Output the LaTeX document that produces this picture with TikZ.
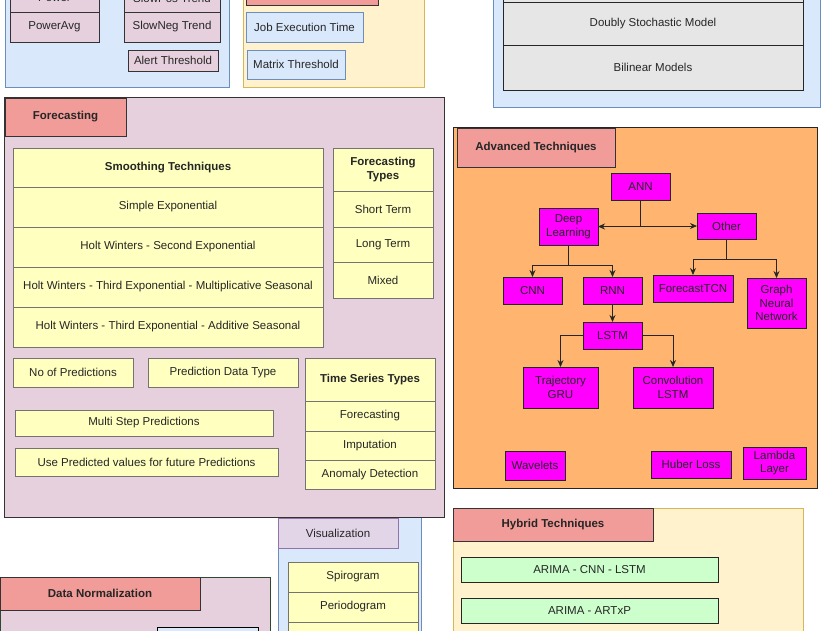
\documentclass[tikz,border=0pt]{standalone}
\usepackage{fontspec}
\setmainfont{Liberation Sans}
\usetikzlibrary{arrows.meta}
\definecolor{lblue}{HTML}{DAE8FC}\definecolor{bblue}{HTML}{6C8EBF}
\definecolor{pinkf}{HTML}{E6D0DE}\definecolor{redf}{HTML}{F19C99}
\definecolor{yelf}{HTML}{FFF2CC}\definecolor{yelb}{HTML}{D6B656}
\definecolor{pyel}{HTML}{FFFFC0}\definecolor{orf}{HTML}{FFB570}
\definecolor{grnf}{HTML}{CCFFCC}\definecolor{grf}{HTML}{E6E6E6}
\definecolor{visf}{HTML}{E1D5E7}\definecolor{visb}{HTML}{9673A6}
\definecolor{dgrn}{HTML}{2E4A2E}\definecolor{magf}{HTML}{FF00FF}
\newcommand\bx[7]{\node[#6,minimum width={#4-#2},minimum height={#5-#3}] (#1) at ({(#2+#4)/2},{(#3+#5)/2}) {#7};}
\begin{document}
\begin{tikzpicture}[x=1pt,y=-1pt,font=\fontsize{11.5}{13.5}\selectfont,
 b/.style={draw,inner sep=0pt,outer sep=0pt,align=center,text=black!85},
 cblue/.style={b,fill=lblue,draw=bblue},
 cpink/.style={b,fill=pinkf,draw=black!80},
 title/.style={b,fill=redf,draw=black!80,font=\fontsize{11.5}{13.5}\selectfont\bfseries},
 cyel/.style={b,fill=yelf,draw=yelb},
 py/.style={b,fill=pyel,draw=black!55},
 pyb/.style={py,font=\fontsize{11.5}{13.5}\selectfont\bfseries},
 mag/.style={b,fill=magf,draw=black!85},
 grn/.style={b,fill=grnf,draw=black!85},
 gry/.style={b,fill=grf,draw=black!85},
 arr/.style={draw=black!85,thick,-{Stealth[length=7pt,width=6pt]}}]
\useasboundingbox (0,0) rectangle (825,630);
\clip (0,0) rectangle (825,630);
% top left
\bx{tl}{5}{-20}{229}{87}{cblue}{}
\bx{pw}{10}{-16}{99}{12}{cpink}{Power}
\bx{pwa}{10}{12}{99}{42}{cpink}{PowerAvg}
\bx{spt}{124}{-16}{220}{12}{cpink}{SlowPos Trend}
\bx{snt}{124}{12}{220}{42}{cpink}{SlowNeg Trend}
\bx{alt}{128}{50}{218}{71}{cpink}{Alert Threshold}
% top middle
\bx{tm}{243}{-20}{424}{87}{cyel}{}
\bx{tmt}{246}{-30}{378}{5}{title}{}
\bx{jet}{246}{12}{363}{42}{cblue}{Job Execution Time}
\bx{mt}{247}{50}{345}{79}{cblue}{Matrix Threshold}
% top right
\bx{tr}{493}{-20}{820}{107}{cblue}{}
\bx{g0}{503}{-20}{803}{2}{gry}{}
\bx{dsm}{503}{2}{803}{45}{gry}{Doubly Stochastic Model}
\bx{bil}{503}{45}{803}{90}{gry}{Bilinear Models}
% visualization
\bx{vis}{278}{500}{421}{640}{cblue}{}
\bx{vist}{278}{518}{398}{548}{b,fill=visf,draw=visb}{Visualization}
\bx{spi}{288}{562}{418}{592}{py}{Spirogram}
\bx{per}{288}{592}{418}{622}{py}{Periodogram}
\bx{vx}{288}{622}{418}{650}{py}{}
% data normalization
\bx{dn}{0}{577}{270}{640}{b,fill=pinkf,draw=dgrn}{}
\bx{dnt}{0}{577}{200}{610}{title}{Data Normalization}
\bx{dnx}{157}{627}{258}{650}{cblue,draw=black}{}
% forecasting
\bx{fc}{4}{97}{444}{517}{cpink}{}
\bx{fct}{5}{98}{126}{136}{title}{Forecasting}
\bx{sm}{13}{148}{323}{187}{pyb}{Smoothing Techniques}
\bx{se}{13}{187}{323}{227}{py}{Simple Exponential}
\bx{hw2}{13}{227}{323}{267}{py}{Holt Winters - Second Exponential}
\bx{hw3m}{13}{267}{323}{307}{py}{Holt Winters - Third Exponential - Multiplicative Seasonal}
\bx{hw3a}{13}{307}{323}{347}{py}{Holt Winters - Third Exponential - Additive Seasonal}
\bx{ft}{333}{148}{433}{191}{pyb}{Forecasting\\Types}
\bx{st}{333}{191}{433}{227}{py}{Short Term}
\bx{lt}{333}{227}{433}{262}{py}{Long Term}
\bx{mx}{333}{262}{433}{298}{py}{Mixed}
\bx{nop}{13}{358}{133}{387}{py}{No of Predictions}
\bx{pdt}{148}{358}{298}{387}{py}{Prediction Data Type}
\bx{tst}{305}{358}{435}{401}{pyb}{Time Series Types}
\bx{tsf}{305}{401}{435}{431}{py}{Forecasting}
\bx{tsi}{305}{431}{435}{460}{py}{Imputation}
\bx{tsa}{305}{460}{435}{489}{py}{Anomaly Detection}
\bx{msp}{15}{410}{273}{436}{py}{Multi Step Predictions}
\bx{upv}{15}{448}{278}{476}{py}{Use Predicted values for future Predictions}
% advanced
\bx{adv}{453}{127}{817}{488}{b,fill=orf,draw=black!85}{}
\bx{advt}{457}{128}{615}{167}{title}{Advanced Techniques}
\bx{ann}{611}{173}{670}{200}{mag}{ANN}
\bx{dl}{539}{208}{598}{245}{mag}{Deep\\Learning}
\bx{oth}{697}{213}{756}{239}{mag}{Other}
\bx{cnn}{503}{277}{562}{304}{mag}{CNN}
\bx{rnn}{583}{277}{642}{304}{mag}{RNN}
\bx{tcn}{653}{275}{733}{302}{mag}{ForecastTCN}
\bx{gnn}{747}{278}{806}{328}{mag}{Graph\\Neural\\Network}
\bx{lstm}{583}{322}{642}{349}{mag}{LSTM}
\bx{tgru}{523}{367}{598}{408}{mag}{Trajectory\\GRU}
\bx{clstm}{633}{367}{713}{408}{mag}{Convolution\\LSTM}
\bx{wav}{505}{451}{565}{480}{mag}{Wavelets}
\bx{hub}{651}{451}{731}{478}{mag}{Huber Loss}
\bx{lam}{743}{447}{806}{479}{mag}{Lambda\\Layer}
\draw[arr] (ann.south) |- (dl.east);
\draw[arr] (ann.south) |- (oth.west);
\draw[arr] (dl.south) -- ++(0,20) -| (cnn.north);
\draw[arr] (dl.south) -- ++(0,20) -| (rnn.north);
\draw[arr] (oth.south) -- ++(0,20) -| (tcn.north);
\draw[arr] (oth.south) -- ++(0,20) -| (gnn.north);
\draw[arr] (rnn) -- (lstm);
\draw[arr] (lstm.west) -| (tgru.north);
\draw[arr] (lstm.east) -| (clstm.north);
% hybrid
\bx{hyb}{453}{508}{803}{640}{cyel}{}
\bx{hybt}{453}{508}{653}{541}{title}{Hybrid Techniques}
\bx{acl}{461}{557}{718}{582}{grn}{ARIMA - CNN - LSTM}
\bx{aa}{461}{598}{718}{623}{grn}{ARIMA - ARTxP}
\end{tikzpicture}
\end{document}
